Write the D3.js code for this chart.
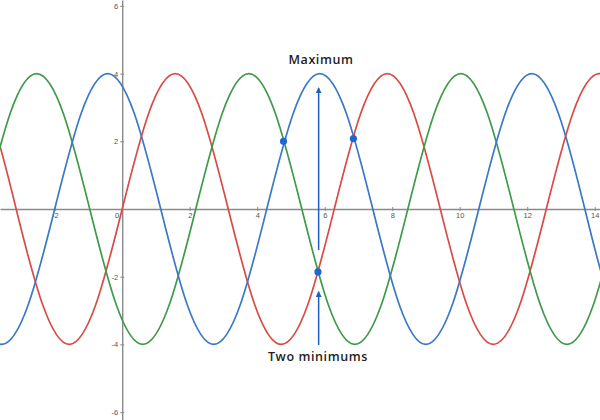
<!DOCTYPE html>
<html><head><meta charset="utf-8">
<script src="https://cdn.jsdelivr.net/npm/d3@7"></script>
<style>html,body{margin:0;padding:0;background:#fff;}svg{display:block;}</style>
</head><body>
<svg id="chart" width="600" height="420"></svg>
<script>
// Curve samples (x, y) at eighth-period spacing
const redX = [-4.712,-3.927,-3.142,-2.356,-1.571,-0.785,0,0.785,1.571,2.356,3.142,3.927,4.712,5.498,6.283,7.069,7.854,8.639,9.425,10.21,10.996,11.781,12.566,13.352,14.137,14.923,15.708];
const redY = [4,2.83,0,-2.83,-4,-2.83,0,2.83,4,2.83,0,-2.83,-4,-2.83,0,2.83,4,2.83,0,-2.83,-4,-2.83,0,2.83,4,2.83,0];
const blueX = [-5.142,-4.356,-3.571,-2.785,-2,-1.215,-0.429,0.356,1.142,1.927,2.712,3.498,4.283,5.069,5.854,6.64,7.425,8.21,8.996,9.781,10.566,11.352,12.137,12.923,13.708,14.494,15.279];
const blueY = [0,-2.83,-4,-2.83,0,2.83,4,2.83,0,-2.83,-4,-2.83,0,2.83,4,2.83,0,-2.83,-4,-2.83,0,2.83,4,2.83,0,-2.83,-4];
const greenX = [-4.889,-4.103,-3.318,-2.532,-1.747,-0.962,-0.176,0.609,1.395,2.18,2.965,3.751,4.536,5.322,6.107,6.892,7.678,8.463,9.249,10.034,10.819,11.605,12.39,13.175,13.961,14.746,15.531];
const greenY = [-2.83,0,2.83,4,2.83,0,-2.83,-4,-2.83,0,2.83,4,2.83,0,-2.83,-4,-2.83,0,2.83,4,2.83,0,-2.83,-4,-2.83,0,2.83];

// Marked intersection points
const pointX = [4.78, 6.85, 5.80];
const pointY = [2.0, 2.08, -1.86];

// Annotations
const annoLabels = ["Maximum", "Two minimums"];
const annoX = [5.89, 5.80];
const annoY = [4.28, -4.5];
const arrowX = [5.82, 5.82];
const arrowFrom = [-1.21, -4.02];
const arrowTo = [3.58, -2.44];

// Ticks
const xTicks = [-2, 2, 4, 6, 8, 10, 12, 14];
const yTicks = [-6, -4, -2, 2, 4, 6];
const xDomain = [-3.621, 14.157];
const yDomain = [-6.233, 6.174];

const W = 600, H = 420;
const svg = d3.select("#chart");
const x = d3.scaleLinear().domain(xDomain).range([0, W]);
const y = d3.scaleLinear().domain(yDomain).range([H, 0]);

const axisColor = "#8a8a8a";
const labelColor = "#555";
const fmt = d => String(d);

// X axis
const gx = svg.append("g").attr("transform", `translate(0,${y(0)})`)
  .call(d3.axisBottom(x).tickValues(xTicks).tickSize(0).tickPadding(5).tickFormat(fmt));
gx.select(".domain").attr("stroke", axisColor).attr("stroke-width", 1.4);
gx.selectAll(".tick line").remove();
gx.selectAll(".tick").append("line").attr("y1", -2).attr("y2", 2).attr("stroke", axisColor).attr("stroke-width", 1);
gx.selectAll(".tick text").attr("fill", labelColor).attr("font-family", "Liberation Sans, Arial, sans-serif").attr("font-size", 7.5).attr("dy", "0.55em");

// Y axis
const gy = svg.append("g").attr("transform", `translate(${x(0)},0)`)
  .call(d3.axisLeft(y).tickValues(yTicks).tickSize(0).tickPadding(4).tickFormat(fmt));
gy.select(".domain").attr("stroke", axisColor).attr("stroke-width", 1.4);
gy.selectAll(".tick line").remove();
gy.selectAll(".tick").append("line").attr("x1", -2).attr("x2", 2).attr("stroke", axisColor).attr("stroke-width", 1);
gy.selectAll(".tick text").attr("fill", labelColor).attr("font-family", "Liberation Sans, Arial, sans-serif").attr("font-size", 7.5);

// origin label
svg.append("text").attr("x", x(0) - 3).attr("y", y(0) + 8.5).attr("text-anchor", "end")
  .attr("fill", labelColor).attr("font-family", "Liberation Sans, Arial, sans-serif").attr("font-size", 7.5).text("0");

// Curves
const line = d3.line().x(d => x(d[0])).y(d => y(d[1])).curve(d3.curveNatural);
const series = [
  {xs: redX, ys: redY, color: "#d94b45"},
  {xs: greenX, ys: greenY, color: "#3f9a4a"},
  {xs: blueX, ys: blueY, color: "#3a78c8"}
];
svg.append("defs").append("clipPath").attr("id", "clip").append("rect").attr("width", W).attr("height", H);
const gc = svg.append("g").attr("clip-path", "url(#clip)");
series.forEach(s => {
  gc.append("path").datum(s.xs.map((v, i) => [v, s.ys[i]]))
    .attr("d", line).attr("fill", "none").attr("stroke", s.color).attr("stroke-width", 1.7);
});

// Arrows
const defs = svg.select("defs");
defs.append("marker").attr("id", "arrow").attr("viewBox", "0 0 10 10").attr("refX", 9).attr("refY", 5)
  .attr("markerWidth", 6).attr("markerHeight", 6).attr("markerUnits", "userSpaceOnUse").attr("orient", "auto")
  .append("path").attr("d", "M0,0 L10,5 L0,10 Z").attr("fill", "#1f5fc4");
arrowX.forEach((ax, i) => {
  svg.append("line").attr("x1", x(ax)).attr("x2", x(ax)).attr("y1", y(arrowFrom[i])).attr("y2", y(arrowTo[i]))
    .attr("stroke", "#1f5fc4").attr("stroke-width", 1.5).attr("marker-end", "url(#arrow)");
});

// Points
pointX.forEach((px, i) => {
  svg.append("circle").attr("cx", x(px)).attr("cy", y(pointY[i])).attr("r", 3.6).attr("fill", "#1f66d1");
});

// Annotation text
annoLabels.forEach((t, i) => {
  svg.append("text").attr("x", x(annoX[i])).attr("y", y(annoY[i])).attr("text-anchor", "middle")
    .attr("font-family", "Open Sans, sans-serif").attr("font-weight", 600).attr("font-size", 12.5)
    .attr("letter-spacing", 0.6).attr("fill", "#1e1e1e").text(t);
});
</script>
</body></html>
